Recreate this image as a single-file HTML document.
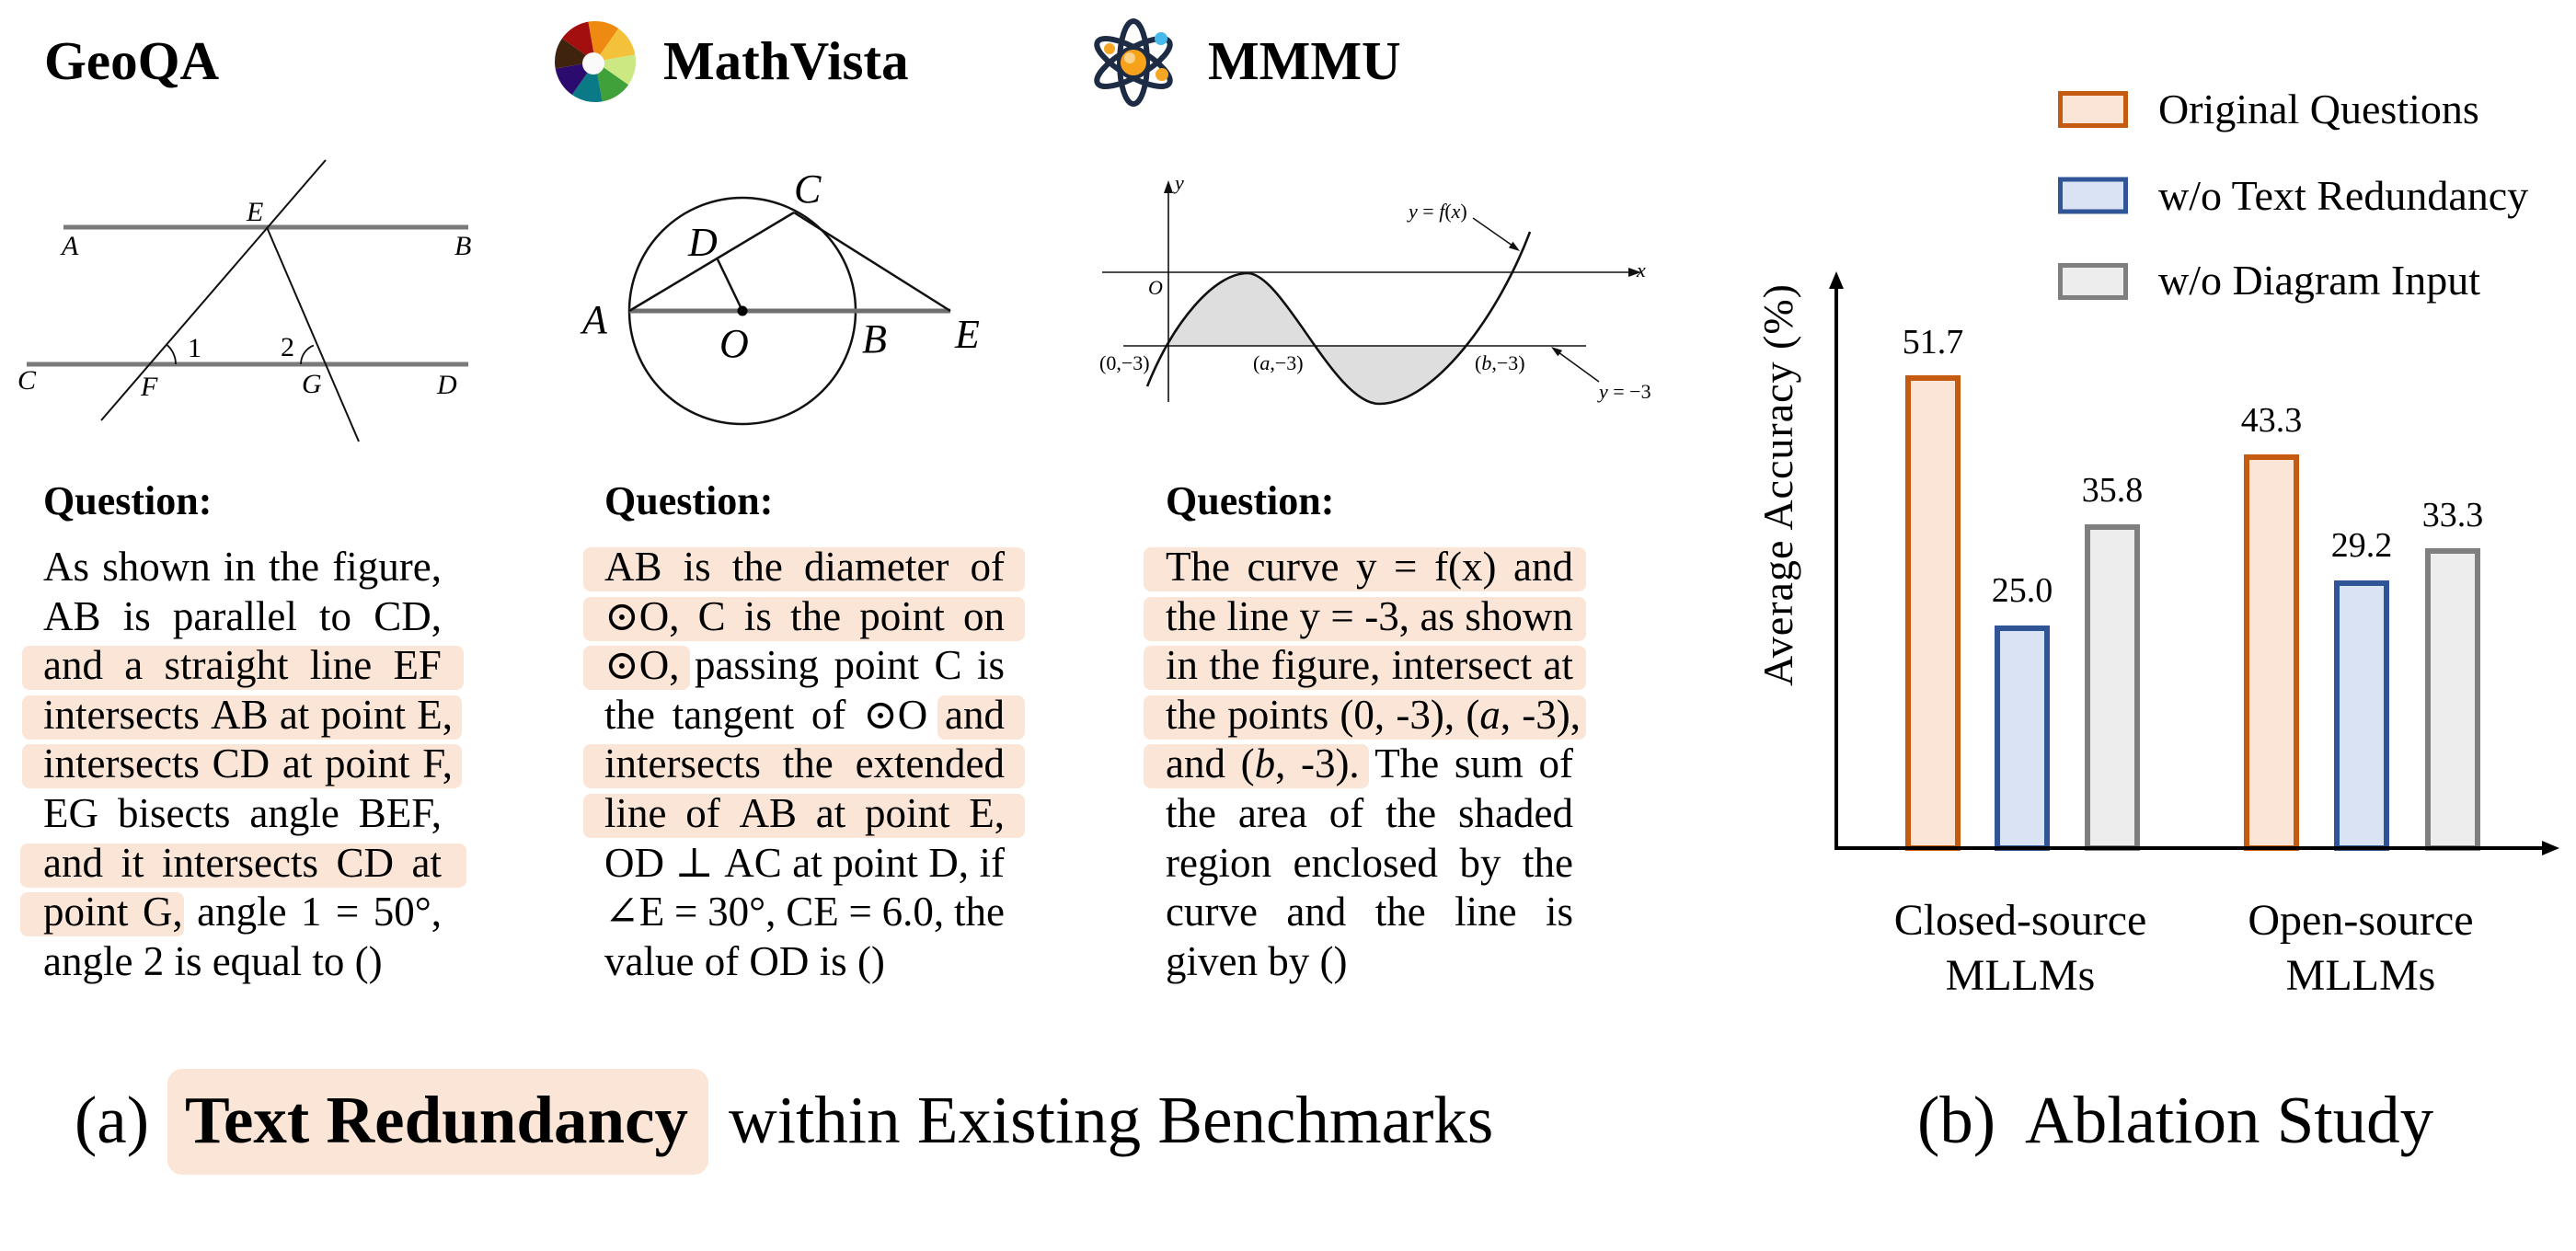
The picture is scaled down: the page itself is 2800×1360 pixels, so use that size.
<!DOCTYPE html>
<html>
<head>
<meta charset="utf-8">
<style>
html,body{margin:0;padding:0;background:#fff;}
body{width:2800px;height:1360px;position:relative;overflow:hidden;}
svg.main{position:absolute;left:0;top:0;}
.l{position:absolute;font-family:"Liberation Serif","DejaVu Serif",serif;font-size:45px;line-height:45px;color:#000;white-space:nowrap;}
.j{display:flex;justify-content:space-between;column-gap:6px;}
.hl{position:absolute;background:#FBE5D6;border-radius:8px;height:48px;}
</style>
</head>
<body>
<svg class="main" width="2800" height="1360" viewBox="0 0 2800 1360" xmlns="http://www.w3.org/2000/svg" font-family="Liberation Serif, DejaVu Serif, serif">
<defs>
  <clipPath id="cl"><rect x="1270" y="280" width="327" height="170"/></clipPath>
</defs>
<!-- Titles -->
<text x="48" y="86" font-size="59" font-weight="bold">GeoQA</text>
<text x="721" y="86" font-size="59" font-weight="bold">MathVista</text>
<text x="1313" y="86" font-size="59" font-weight="bold">MMMU</text>

<!-- MathVista logo -->
<g>
  <path d="M647,67 L639.36,23.67 A44,44 0 0 1 672.24,30.96 Z" fill="#EE8A12"/>
  <path d="M647,67 L672.24,30.96 A44,44 0 0 1 690.33,59.36 Z" fill="#F3C13A"/>
  <path d="M647,67 L690.33,59.36 A44,44 0 0 1 683.04,92.24 Z" fill="#CBE883"/>
  <path d="M647,67 L683.04,92.24 A44,44 0 0 1 654.64,110.33 Z" fill="#40A03A"/>
  <path d="M647,67 L654.64,110.33 A44,44 0 0 1 621.76,103.04 Z" fill="#0B7A87"/>
  <path d="M647,67 L621.76,103.04 A44,44 0 0 1 603.67,74.64 Z" fill="#2B0C6E"/>
  <path d="M647,67 L603.67,74.64 A44,44 0 0 1 610.96,41.76 Z" fill="#40230F"/>
  <path d="M647,67 L610.96,41.76 A44,44 0 0 1 639.36,23.67 Z" fill="#A30E0E"/>
  <circle cx="645" cy="69" r="12" fill="#fafafa"/>
</g>

<!-- MMMU atom icon -->
<g transform="translate(1232,68)" fill="none" stroke="#1D2B45" stroke-width="6">
  <ellipse rx="45" ry="15" transform="rotate(90)"/>
  <ellipse rx="45" ry="15" transform="rotate(30)"/>
  <ellipse rx="45" ry="15" transform="rotate(-30)"/>
  <circle r="16" fill="#F7A21B" stroke-width="4"/>
  <circle cx="-4" cy="-5" r="6" fill="#FBD38A" stroke="none"/>
</g>
<circle cx="1262" cy="42" r="7" fill="#45B8EC"/>
<circle cx="1206" cy="53" r="6" fill="#F5A623"/>
<circle cx="1263" cy="81" r="7" fill="#F5A623"/>

<!-- Figure 1: GeoQA -->
<g>
  <line x1="69" y1="247" x2="509" y2="247" stroke="#7a7a7a" stroke-width="5"/>
  <line x1="29" y1="396" x2="509" y2="396" stroke="#7a7a7a" stroke-width="5"/>
  <line x1="354" y1="174" x2="110" y2="457" stroke="#111" stroke-width="2"/>
  <line x1="290" y1="247" x2="390" y2="480" stroke="#111" stroke-width="2"/>
  <path d="M191,396 A28,28 0 0 0 181.2,374.7" fill="none" stroke="#111" stroke-width="1.8"/>
  <path d="M327,396 A22,22 0 0 1 340.9,375.5" fill="none" stroke="#111" stroke-width="1.8"/>
  <g font-size="30" font-style="italic">
    <text x="268" y="240">E</text>
    <text x="67" y="277">A</text>
    <text x="494" y="277">B</text>
    <text x="19" y="423">C</text>
    <text x="153" y="430">F</text>
    <text x="328" y="427">G</text>
    <text x="475" y="428">D</text>
  </g>
  <text x="204" y="388" font-size="30">1</text>
  <text x="305" y="387" font-size="30">2</text>
</g>

<!-- Figure 2: MathVista -->
<g>
  <circle cx="807" cy="338" r="123" fill="none" stroke="#111" stroke-width="2.5"/>
  <line x1="684" y1="338" x2="1033" y2="338" stroke="#6f6f6f" stroke-width="5"/>
  <line x1="684" y1="338" x2="863" y2="231" stroke="#111" stroke-width="2.5"/>
  <line x1="863" y1="231" x2="1033" y2="338" stroke="#111" stroke-width="2.5"/>
  <line x1="807" y1="338" x2="780" y2="282" stroke="#111" stroke-width="2.5"/>
  <circle cx="807" cy="338" r="5.5" fill="#000"/>
  <g font-size="44" font-style="italic">
    <text x="633" y="362">A</text>
    <text x="782" y="388">O</text>
    <text x="937" y="383">B</text>
    <text x="1038" y="378">E</text>
    <text x="863" y="220">C</text>
    <text x="748" y="278">D</text>
  </g>
</g>

<!-- Figure 3: MMMU -->
<g>
  <path d="M1247,420 C1275,350 1320,297 1356,297 C1395,297 1450,439 1499,439 C1560,439 1630,340 1663,252 L1663,376 L1247,376 Z" fill="#dedede" clip-path="url(#cl)"/>
  <line x1="1198" y1="296" x2="1772" y2="296" stroke="#111" stroke-width="1.6"/>
  <polygon points="1784,296 1770,291 1770,301" fill="#111"/>
  <line x1="1270" y1="437" x2="1270" y2="206" stroke="#111" stroke-width="1.6"/>
  <polygon points="1270,196 1265,210 1275,210" fill="#111"/>
  <line x1="1221" y1="376" x2="1724" y2="376" stroke="#111" stroke-width="1.6"/>
  <path d="M1247,420 C1275,350 1320,297 1356,297 C1395,297 1450,439 1499,439 C1560,439 1630,340 1663,252" fill="none" stroke="#111" stroke-width="2.6"/>
  <line x1="1601" y1="237" x2="1644" y2="267" stroke="#111" stroke-width="1.5"/>
  <polygon points="1652,273 1639.9,269.4 1644.5,262.8" fill="#111"/>
  <line x1="1738" y1="415" x2="1694" y2="383" stroke="#111" stroke-width="1.5"/>
  <polygon points="1686,377 1698.1,380.9 1693.3,387.3" fill="#111"/>
  <g font-size="22">
    <text x="1277" y="206" font-style="italic">y</text>
    <text x="1779" y="301" font-style="italic">x</text>
    <text x="1248" y="320" font-style="italic">O</text>
    <text x="1531" y="237"><tspan font-style="italic">y</tspan> = <tspan font-style="italic">f</tspan>(<tspan font-style="italic">x</tspan>)</text>
    <text x="1195" y="402">(0,−3)</text>
    <text x="1362" y="402">(<tspan font-style="italic">a</tspan>,−3)</text>
    <text x="1603" y="402">(<tspan font-style="italic">b</tspan>,−3)</text>
    <text x="1738" y="433"><tspan font-style="italic">y</tspan> = −3</text>
  </g>
</g>

<!-- Question headings -->
<g font-size="44" font-weight="bold">
  <text x="47" y="559">Question:</text>
  <text x="657" y="559">Question:</text>
  <text x="1267" y="559">Question:</text>
</g>

<!-- Caption -->
<rect x="182" y="1162" width="588" height="115" rx="16" fill="#FBE5D6"/>
<g font-size="73">
  <text x="81" y="1242">(a)</text>
  <text x="201" y="1242" font-weight="bold">Text Redundancy</text>
  <text x="792" y="1242">within Existing Benchmarks</text>
  <text x="2084" y="1242">(b)</text>
  <text x="2201" y="1242">Ablation Study</text>
</g>

<!-- Bar chart -->
<g>
  <!-- legend -->
  <rect x="2239.5" y="101.5" width="71" height="35" fill="#FBE5D6" stroke="#C55A11" stroke-width="5"/>
  <rect x="2239.5" y="195" width="71" height="35" fill="#DAE3F3" stroke="#2F5597" stroke-width="5"/>
  <rect x="2239.5" y="288.5" width="71" height="35" fill="#EDEDED" stroke="#7F7F7F" stroke-width="5"/>
  <g font-size="46">
    <text x="2346" y="134">Original Questions</text>
    <text x="2346" y="228">w/o Text Redundancy</text>
    <text x="2346" y="320">w/o Diagram Input</text>
  </g>
  <!-- bars -->
  <rect x="2074" y="411" width="54" height="511" fill="#FBE5D6" stroke="#C55A11" stroke-width="6"/>
  <rect x="2171" y="683" width="54" height="239" fill="#DAE3F3" stroke="#2F5597" stroke-width="6"/>
  <rect x="2269" y="573" width="54" height="349" fill="#EDEDED" stroke="#7F7F7F" stroke-width="6"/>
  <rect x="2442" y="497" width="54" height="425" fill="#FBE5D6" stroke="#C55A11" stroke-width="6"/>
  <rect x="2540" y="634" width="54" height="288" fill="#DAE3F3" stroke="#2F5597" stroke-width="6"/>
  <rect x="2639" y="599" width="54" height="323" fill="#EDEDED" stroke="#7F7F7F" stroke-width="6"/>
  <g font-size="38" text-anchor="middle">
    <text x="2101" y="384">51.7</text>
    <text x="2198" y="654">25.0</text>
    <text x="2296" y="545">35.8</text>
    <text x="2469" y="469">43.3</text>
    <text x="2567" y="605">29.2</text>
    <text x="2666" y="572">33.3</text>
  </g>
  <!-- axes -->
  <line x1="1996" y1="924" x2="1996" y2="310" stroke="#000" stroke-width="4"/>
  <polygon points="1996,295 1988,314 2004,314" fill="#000"/>
  <line x1="1994" y1="922" x2="2766" y2="922" stroke="#000" stroke-width="4"/>
  <polygon points="2782,922 2763,914 2763,930" fill="#000"/>
  <text transform="translate(1948,527) rotate(-90)" text-anchor="middle" font-size="46" letter-spacing="1">Average Accuracy (%)</text>
  <g font-size="48" text-anchor="middle">
    <text x="2196" y="1016">Closed-source</text>
    <text x="2196" y="1076">MLLMs</text>
    <text x="2566" y="1016">Open-source</text>
    <text x="2566" y="1076">MLLMs</text>
  </g>
</g>
</svg>

<!-- Highlights: column 1 -->
<div class="hl" style="left:24px;top:702px;width:480px;"></div>
<div class="hl" style="left:24px;top:756px;width:478px;"></div>
<div class="hl" style="left:24px;top:809px;width:478px;"></div>
<div class="hl" style="left:22px;top:917px;width:485px;"></div>
<div class="hl" style="left:22px;top:970px;width:178px;"></div>
<!-- Highlights: column 2 -->
<div class="hl" style="left:634px;top:595px;width:480px;"></div>
<div class="hl" style="left:634px;top:649px;width:480px;"></div>
<div class="hl" style="left:634px;top:702px;width:116px;"></div>
<div class="hl" style="left:1019px;top:756px;width:95px;"></div>
<div class="hl" style="left:634px;top:809px;width:480px;"></div>
<div class="hl" style="left:634px;top:863px;width:480px;"></div>
<!-- Highlights: column 3 -->
<div class="hl" style="left:1243px;top:595px;width:481px;"></div>
<div class="hl" style="left:1243px;top:649px;width:481px;"></div>
<div class="hl" style="left:1243px;top:702px;width:481px;"></div>
<div class="hl" style="left:1243px;top:756px;width:481px;"></div>
<div class="hl" style="left:1243px;top:809px;width:245px;"></div>

<!-- Column 1 text -->
<div class="l j" style="left:47px;top:594px;width:433px;"><span>As</span><span>shown</span><span>in</span><span>the</span><span>figure,</span></div>
<div class="l j" style="left:47px;top:648px;width:433px;"><span>AB</span><span>is</span><span>parallel</span><span>to</span><span>CD,</span></div>
<div class="l j" style="left:47px;top:701px;width:433px;"><span>and</span><span>a</span><span>straight</span><span>line</span><span>EF</span></div>
<div class="l j" style="left:47px;top:755px;width:445px;"><span>intersects</span><span>AB</span><span>at</span><span>point</span><span>E,</span></div>
<div class="l j" style="left:47px;top:808px;width:445px;"><span>intersects</span><span>CD</span><span>at</span><span>point</span><span>F,</span></div>
<div class="l j" style="left:47px;top:862px;width:433px;"><span>EG</span><span>bisects</span><span>angle</span><span>BEF,</span></div>
<div class="l j" style="left:47px;top:916px;width:433px;"><span>and</span><span>it</span><span>intersects</span><span>CD</span><span>at</span></div>
<div class="l j" style="left:47px;top:969px;width:433px;"><span>point</span><span>G,</span><span>angle</span><span>1</span><span>=</span><span>50°,</span></div>
<div class="l" style="left:47px;top:1023px;">angle 2 is equal to ()</div>

<!-- Column 2 text -->
<div class="l j" style="left:657px;top:594px;width:435px;"><span>AB</span><span>is</span><span>the</span><span>diameter</span><span>of</span></div>
<div class="l j" style="left:657px;top:648px;width:435px;"><span>⊙O,</span><span>C</span><span>is</span><span>the</span><span>point</span><span>on</span></div>
<div class="l j" style="left:657px;top:701px;width:435px;"><span>⊙O,</span><span>passing</span><span>point</span><span>C</span><span>is</span></div>
<div class="l j" style="left:657px;top:755px;width:435px;"><span>the</span><span>tangent</span><span>of</span><span>⊙O</span><span>and</span></div>
<div class="l j" style="left:657px;top:808px;width:435px;"><span>intersects</span><span>the</span><span>extended</span></div>
<div class="l j" style="left:657px;top:862px;width:435px;"><span>line</span><span>of</span><span>AB</span><span>at</span><span>point</span><span>E,</span></div>
<div class="l j" style="left:657px;top:916px;width:435px;"><span>OD</span><span>⊥</span><span>AC</span><span>at</span><span>point</span><span>D,</span><span>if</span></div>
<div class="l j" style="left:657px;top:969px;width:435px;"><span>∠E</span><span>=</span><span>30°,</span><span>CE</span><span>=</span><span>6.0,</span><span>the</span></div>
<div class="l" style="left:657px;top:1023px;">value of OD is ()</div>

<!-- Column 3 text -->
<div class="l j" style="left:1267px;top:594px;width:443px;"><span>The</span><span>curve</span><span>y</span><span>=</span><span>f(x)</span><span>and</span></div>
<div class="l j" style="left:1267px;top:648px;width:443px;"><span>the</span><span>line</span><span>y</span><span>=</span><span>-3,</span><span>as</span><span>shown</span></div>
<div class="l j" style="left:1267px;top:701px;width:443px;"><span>in</span><span>the</span><span>figure,</span><span>intersect</span><span>at</span></div>
<div class="l j" style="left:1267px;top:755px;width:451px;"><span>the</span><span>points</span><span>(0,</span><span>-3),</span><span>(<i>a</i>,</span><span>-3),</span></div>
<div class="l j" style="left:1267px;top:808px;width:443px;"><span>and</span><span>(<i>b</i>,</span><span>-3).</span><span>The</span><span>sum</span><span>of</span></div>
<div class="l j" style="left:1267px;top:862px;width:443px;"><span>the</span><span>area</span><span>of</span><span>the</span><span>shaded</span></div>
<div class="l j" style="left:1267px;top:916px;width:443px;"><span>region</span><span>enclosed</span><span>by</span><span>the</span></div>
<div class="l j" style="left:1267px;top:969px;width:443px;"><span>curve</span><span>and</span><span>the</span><span>line</span><span>is</span></div>
<div class="l" style="left:1267px;top:1023px;">given by ()</div>
</body>
</html>
